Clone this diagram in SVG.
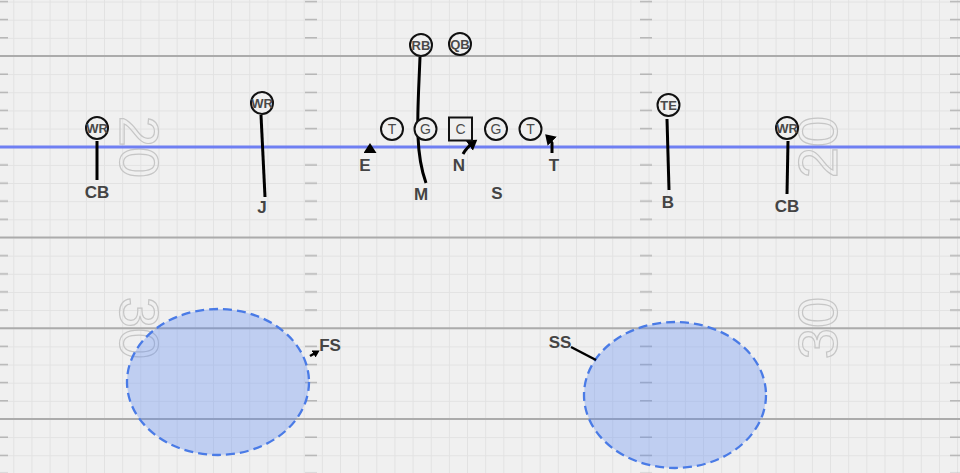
<svg xmlns="http://www.w3.org/2000/svg" width="960" height="473" viewBox="0 0 960 473">
<style>
.yard{stroke:#ababab;stroke-width:2}
.num{font-family:"Liberation Sans",Arial,sans-serif;font-size:56px;fill:none;stroke:#c6c6c6;stroke-width:1.2;text-anchor:middle}
.p{fill:#f0f0f0;stroke:#111;stroke-width:2}
.pt{font-family:"Liberation Sans",Arial,sans-serif;font-size:13px;font-weight:bold;fill:#4a4a4a;text-anchor:middle}
.ps{font-family:"Liberation Sans",Arial,sans-serif;font-size:14px;fill:#4a4a4a;text-anchor:middle}
.lbl{font-family:"Liberation Sans",Arial,sans-serif;font-size:17px;font-weight:bold;fill:#444;text-anchor:middle}
.route{fill:none;stroke:#000;stroke-width:3}
.zone{fill:#5082f5;fill-opacity:0.3;stroke:#4a7be6;stroke-width:2.3;stroke-dasharray:9,5}
</style>
<defs>
<pattern id="grid" patternUnits="userSpaceOnUse" x="13.3" y="56" width="18.15" height="18.15">
<path d="M0.5,0 V18.15 M0,0.5 H18.15" fill="none" stroke="#e2e2e2" stroke-width="1"/>
</pattern>
<pattern id="hash" patternUnits="userSpaceOnUse" x="0" y="56" width="960" height="90.75">
<path d="M0,18.15 h8 M305,18.15 h12 M640,18.15 h12 M950,18.15 h10 M0,36.3 h8 M305,36.3 h12 M640,36.3 h12 M950,36.3 h10 M0,54.45 h8 M305,54.45 h12 M640,54.45 h12 M950,54.45 h10 M0,72.6 h8 M305,72.6 h12 M640,72.6 h12 M950,72.6 h10" stroke="#b5b5b5" stroke-width="1.5"/>
</pattern>
<marker id="ah" markerUnits="userSpaceOnUse" markerWidth="14" markerHeight="14" refX="6" refY="6.5" orient="auto">
<path d="M0,0 L10,6.5 L0,13 z" fill="#000"/>
</marker>
<marker id="ahs" markerUnits="userSpaceOnUse" markerWidth="10" markerHeight="10" refX="4" refY="4" orient="auto">
<path d="M0,0 L7,4 L0,8 z" fill="#000"/>
</marker>
</defs>

<g id="field">
<rect width="960" height="473" fill="#f0f0f0"/>
<rect width="960" height="473" fill="url(#grid)"/>
<rect width="960" height="473" fill="url(#hash)"/>
<line class="yard" x1="0" y1="56" x2="960" y2="56"/>
<line class="yard" x1="0" y1="237.5" x2="960" y2="237.5"/>
<line class="yard" x1="0" y1="328.2" x2="960" y2="328.2"/>
<line class="yard" x1="0" y1="419" x2="960" y2="419"/>
<text class="num" transform="translate(120,147) rotate(90)">20</text>
<text class="num" transform="translate(837,147) rotate(-90)">20</text>
<text class="num" transform="translate(120,328) rotate(90)">30</text>
<text class="num" transform="translate(837,328) rotate(-90)">30</text>
<line x1="0" y1="147" x2="960" y2="147" stroke="#6f7ff2" stroke-width="3"/>
</g>

<g id="zones">
<ellipse id="zone-fs" class="zone" cx="218" cy="382" rx="91" ry="73"/>
<ellipse id="zone-ss" class="zone" cx="675" cy="395" rx="91" ry="73"/>
</g>

<g id="connectors">
<path class="route" d="M97,141 V180"/>
<path class="route" d="M261,115 L265,197"/>
<path class="route" d="M420,57 C418,110 414,150 426,183"/>
<path class="route" d="M370,153 V147" marker-end="url(#ah)"/>
<path class="route" d="M463,154 Q467,147 474,142" marker-end="url(#ah)"/>
<path class="route" d="M552,153 L552,143 Q551,140 548,137" marker-end="url(#ah)"/>
<path class="route" d="M667,119 L669,190"/>
<path class="route" d="M788,141 L787,194"/>
<path class="route" style="stroke-width:2.5" d="M310,356 L317,352" marker-end="url(#ahs)"/>
<path class="route" style="stroke-width:2.5" d="M571,347 L596,360"/>
</g>

<g id="offense">
<g id="wr-left"><circle class="p" cx="97" cy="128" r="11"/><text class="pt" x="97" y="132.6">WR</text></g>
<g id="wr-slot"><circle class="p" cx="262" cy="103" r="11"/><text class="pt" x="262" y="107.6">WR</text></g>
<g id="rb"><circle class="p" cx="421" cy="45" r="11"/><text class="pt" x="421" y="49.6">RB</text></g>
<g id="qb"><circle class="p" cx="460" cy="44" r="11"/><text class="pt" x="460" y="48.6">QB</text></g>
<g id="lt"><circle class="p" cx="392" cy="129" r="11"/><text class="ps" x="392" y="134">T</text></g>
<g id="lg"><circle class="p" cx="425.5" cy="129" r="11"/><text class="ps" x="425.5" y="134">G</text></g>
<g id="c"><rect class="p" x="449" y="117.5" width="23" height="23"/><text class="ps" x="460.5" y="134">C</text></g>
<g id="rg"><circle class="p" cx="496" cy="129" r="11"/><text class="ps" x="496" y="134">G</text></g>
<g id="rt"><circle class="p" cx="530.5" cy="129" r="11"/><text class="ps" x="530.5" y="134">T</text></g>
<g id="te"><circle class="p" cx="668.5" cy="105" r="11"/><text class="pt" x="668.5" y="109.6">TE</text></g>
<g id="wr-right"><circle class="p" cx="787" cy="128" r="11"/><text class="pt" x="787" y="132.6">WR</text></g>
</g>

<g id="defense">
<g id="cb-left"><text class="lbl" x="97" y="198">CB</text></g>
<g id="j"><text class="lbl" x="262" y="213">J</text></g>
<g id="e"><text class="lbl" x="365" y="171">E</text></g>
<g id="m"><text class="lbl" x="421" y="200">M</text></g>
<g id="n"><text class="lbl" x="459" y="171">N</text></g>
<g id="s"><text class="lbl" x="497" y="199">S</text></g>
<g id="t"><text class="lbl" x="554" y="171">T</text></g>
<g id="b"><text class="lbl" x="668" y="208">B</text></g>
<g id="cb-right"><text class="lbl" x="787" y="212">CB</text></g>
<g id="fs"><text class="lbl" x="330" y="351">FS</text></g>
<g id="ss"><text class="lbl" x="560" y="348">SS</text></g>
</g>
</svg>
